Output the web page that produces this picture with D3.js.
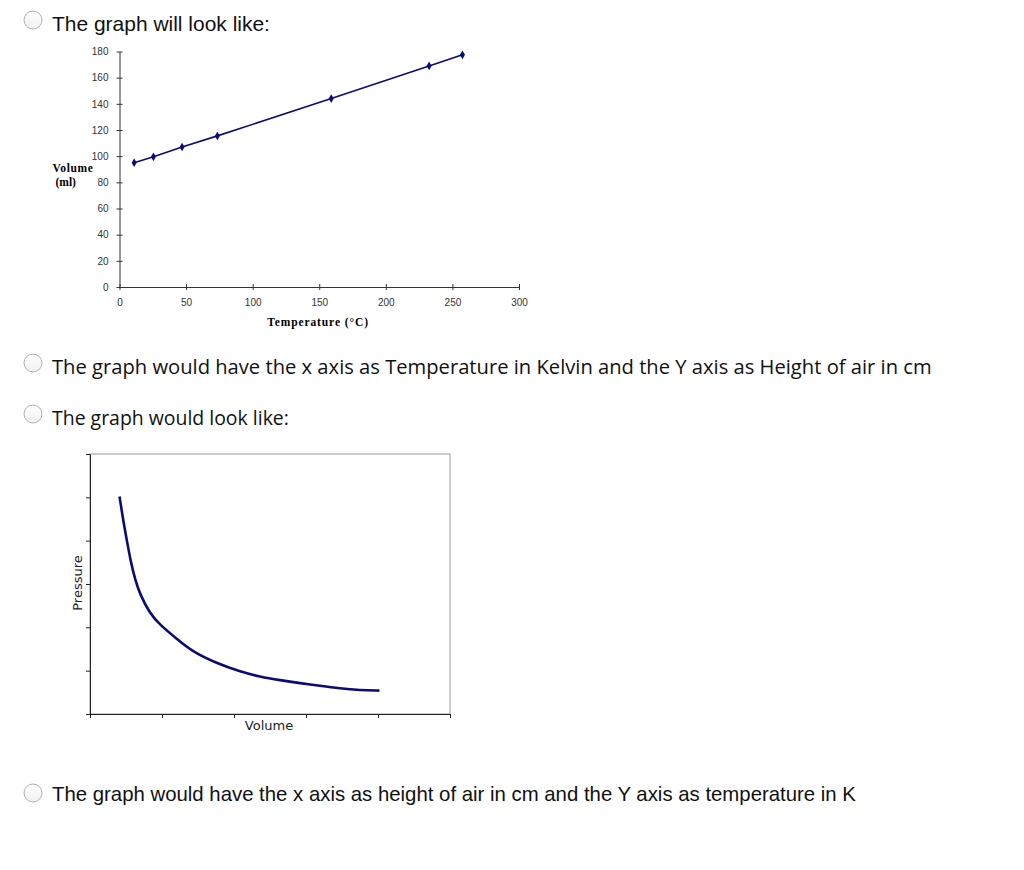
<!DOCTYPE html>
<html lang="en">

<head>
  <title>Gas law graphs</title>
  <script src="https://cdn.jsdelivr.net/npm/d3@7"></script>
  <style>
    body { margin: 0; background: #fff; }
    .tick text { font-family: "Liberation Sans", Arial, sans-serif; font-size: 10px; fill: #333; }
  </style>
</head>

<body>
  <script>
    // answer choices
    var choices = [
      "The graph will look like:",
      "The graph would have the x axis as Temperature in Kelvin and the Y axis as Height of air in cm",
      "The graph would look like:",
      "The graph would have the x axis as height of air in cm and the Y axis as temperature in K"
    ];

    // chart 1: volume vs temperature
    var tempC = [11, 25.5, 47, 73.5, 159, 232.5, 257.5];
    var volumeMl = [95, 99.5, 107, 115.5, 144, 169, 177.5];
    var tempTicks = [0, 50, 100, 150, 200, 250, 300];
    var volumeTicks = [0, 20, 40, 60, 80, 100, 120, 140, 160, 180];

    // chart 2: pressure vs volume (no units on the axes)
    var volumeRel = [0.41, 0.46, 0.51, 0.57, 0.63, 0.69, 0.83, 0.97, 1.20, 1.43, 1.76, 2.08, 2.36, 2.64, 2.92, 3.19, 3.47, 3.75, 4.02];
    var pressureRel = [5.02, 4.48, 4.02, 3.48, 3.09, 2.78, 2.32, 2.06, 1.74, 1.43, 1.17, 0.98, 0.86, 0.78, 0.71, 0.65, 0.59, 0.55, 0.54];

    var w = 1024;
    var h = 870;
    var svg = d3.select("body").append("svg")
                .attr("width", w)
                .attr("height", h);

    // question lines: baseline, right edge of text, font, radio centre
    var rows = [
      { y: 30.5, right: 270, font: "'Liberation Sans', Arial, sans-serif", radio: 20 },
      { y: 373.5, right: 932, font: "'Open Sans', sans-serif", radio: 363 },
      { y: 424.5, right: 289, font: "'Open Sans', sans-serif", radio: 414 },
      { y: 801, right: 856, font: "'Liberation Sans', Arial, sans-serif", radio: 793 }
    ];

    var defs = svg.append("defs");
    var grad = defs.append("linearGradient")
                   .attr("id", "radio")
                   .attr("x1", 0).attr("y1", 0).attr("x2", 0).attr("y2", 1);
    grad.append("stop").attr("offset", "0%").attr("stop-color", "#ffffff");
    grad.append("stop").attr("offset", "100%").attr("stop-color", "#f0f0f0");

    rows.forEach(function(r, i) {
      svg.append("circle")
         .attr("cx", 33)
         .attr("cy", r.radio)
         .attr("r", 9)
         .attr("fill", "url(#radio)")
         .attr("stroke", "#b0b0b0")
         .attr("stroke-width", 1);
      var t = svg.append("text")
                 .attr("x", 52)
                 .attr("y", r.y)
                 .attr("font-family", r.font)
                 .attr("font-size", 20)
                 .attr("fill", "#111")
                 .text(choices[i]);
      // fit size to the width seen in the picture
      var len = t.node().getComputedTextLength();
      t.attr("font-size", 20 * (r.right - 52) / len);
    });

    // ---------- chart 1 ----------
    var x1 = d3.scaleLinear().domain([0, 300]).range([119.5, 519]);
    var y1 = d3.scaleLinear().domain([0, 180]).range([287, 51.5]);

    var g1 = svg.append("g");
    var xAxis1 = d3.axisBottom(x1)
                   .tickValues(tempTicks)
                   .tickSize(3)
                   .tickSizeOuter(0)
                   .tickPadding(9);
    var yAxis1 = d3.axisLeft(y1)
                   .tickValues(volumeTicks)
                   .tickSize(3)
                   .tickSizeOuter(0)
                   .tickPadding(8);

    var gx1 = g1.append("g")
                .attr("transform", "translate(0," + y1(0) + ")")
                .call(xAxis1);
    gx1.selectAll(".tick line").attr("y1", -3);
    var gy1 = g1.append("g")
                .attr("transform", "translate(" + x1(0) + ",0)")
                .call(yAxis1);
    gy1.selectAll(".tick line").attr("x1", 3);
    g1.selectAll(".domain, .tick line").attr("stroke", "#333");

    var line1 = d3.line()
                  .x(function(d, i) { return x1(tempC[i]); })
                  .y(function(d) { return y1(d); });
    g1.append("path")
      .datum(volumeMl)
      .attr("d", line1)
      .attr("fill", "none")
      .attr("stroke", "#0b0b7a")
      .attr("stroke-width", 1.6);
    g1.selectAll(".pt")
      .data(volumeMl)
      .enter()
        .append("path")
        .classed("pt", true)
        .attr("d", d3.symbol(d3.symbolDiamond, 22))
        .attr("transform", function(d, i) {
          return "translate(" + x1(tempC[i]) + "," + y1(d) + ")";
        })
        .attr("fill", "#0b0b7a");

    var serif = "'Liberation Serif', 'Times New Roman', serif";
    g1.append("text")
      .attr("x", 52.5).attr("y", 171.5)
      .attr("font-family", serif).attr("font-weight", "bold")
      .attr("font-size", 11.5).attr("letter-spacing", 0.6)
      .text("Volume");
    g1.append("text")
      .attr("x", 55.5).attr("y", 185.5)
      .attr("font-family", serif).attr("font-weight", "bold")
      .attr("font-size", 11.5)
      .text("(ml)");
    g1.append("text")
      .attr("x", 318).attr("y", 326)
      .attr("text-anchor", "middle")
      .attr("font-family", serif).attr("font-weight", "bold")
      .attr("font-size", 11.5).attr("letter-spacing", 0.9)
      .text("Temperature (°C)");

    // ---------- chart 2 ----------
    var x2 = d3.scaleLinear().domain([0, 5]).range([90, 450]);
    var y2 = d3.scaleLinear().domain([0, 6]).range([714, 454]);
    var g2 = svg.append("g");

    g2.append("rect")
      .attr("x", x2(0)).attr("y", y2(6))
      .attr("width", x2(5) - x2(0)).attr("height", y2(0) - y2(6))
      .attr("fill", "none")
      .attr("stroke", "#9a9a9a");

    g2.append("g")
      .attr("transform", "translate(0," + y2(0) + ")")
      .call(d3.axisBottom(x2).ticks(5).tickSize(4).tickSizeOuter(4).tickFormat(""));
    g2.append("g")
      .attr("transform", "translate(" + x2(0) + ",0)")
      .call(d3.axisLeft(y2).ticks(6).tickSize(4).tickSizeOuter(4).tickFormat(""));
    g2.selectAll(".domain, .tick line").attr("stroke", "#222");

    var line2 = d3.line()
                  .x(function(d, i) { return x2(volumeRel[i]); })
                  .y(function(d) { return y2(d); })
                  .curve(d3.curveBasis);
    g2.append("path")
      .datum(pressureRel)
      .attr("d", line2)
      .attr("fill", "none")
      .attr("stroke", "#0b0b78")
      .attr("stroke-width", 2.6);

    var sans = "'DejaVu Sans', Verdana, sans-serif";
    g2.append("text")
      .attr("x", 269).attr("y", 730)
      .attr("text-anchor", "middle")
      .attr("font-family", sans).attr("font-size", 13)
      .attr("fill", "#222")
      .text("Volume");
    g2.append("text")
      .attr("transform", "translate(82,583) rotate(-90)")
      .attr("text-anchor", "middle")
      .attr("font-family", sans).attr("font-size", 13)
      .attr("fill", "#222")
      .text("Pressure");
  </script>
</body>

</html>
